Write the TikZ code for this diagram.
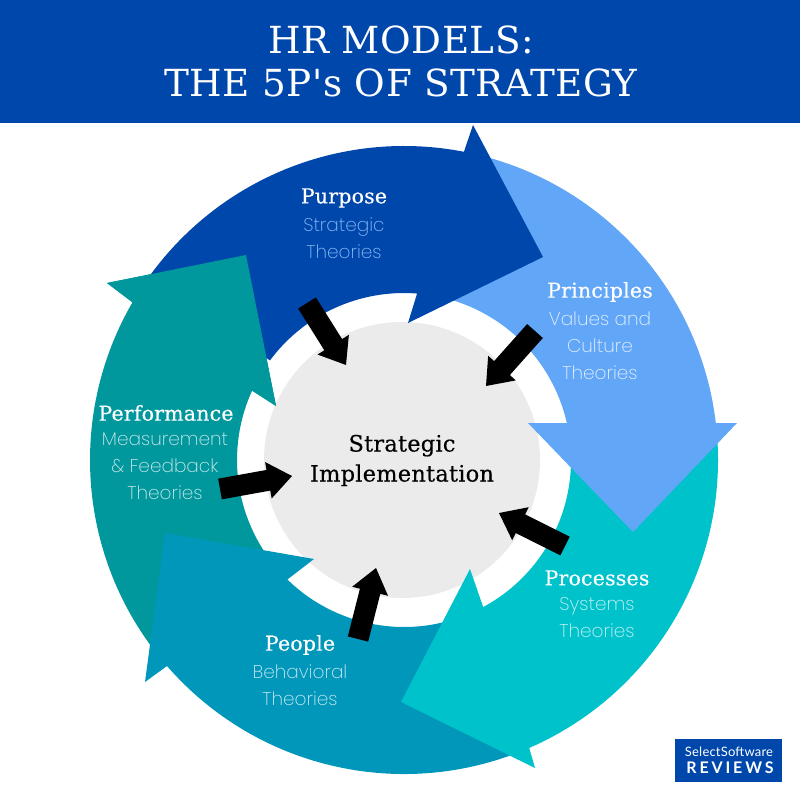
\documentclass[tikz,border=0pt]{standalone}
\usepackage{fontspec}
\usetikzlibrary{calc}
\setmainfont{Liberation Serif}
\newfontfamily\headfont[LetterSpace=1.5]{DejaVu Serif}
\newfontfamily\boldhead[FakeBold=0.35,LetterSpace=1]{DejaVu Serif}
\newfontfamily\thinfont{Poppins ExtraLight}
\newfontfamily\badgefont[LetterSpace=1.5]{Lato}
\definecolor{navyc}{HTML}{0047AB}
\definecolor{skyc}{HTML}{62A6F7}
\definecolor{cyanc}{HTML}{00C2CB}
\definecolor{oceanc}{HTML}{0097BB}
\definecolor{tealc}{HTML}{00979D}
\definecolor{greyc}{HTML}{EBEBEB}
\tikzset{
  titletext/.style={text=white,font=\headfont\fontsize{37.3}{43}\selectfont,align=center},
  namelabel/.style={text=white,font=\boldhead\fontsize{20.5}{24}\selectfont},
  sublabel/.style={font=\thinfont\fontsize{18.5}{27}\selectfont,align=center},
  centertext/.style={text=black,font=\boldhead\fontsize{22.5}{30}\selectfont,align=center},
}
\newcommand{\blockarrow}[2]{%
  \fill[black] ($(#1)!10.5pt!90:(#2)$)
    -- ($($(#2)!24pt!(#1)$)!10.5pt!90:(#2)$)
    -- ($($(#2)!24pt!(#1)$)!18.5pt!90:(#2)$)
    -- (#2)
    -- ($($(#2)!24pt!(#1)$)!18.5pt!-90:(#2)$)
    -- ($($(#2)!24pt!(#1)$)!10.5pt!-90:(#2)$)
    -- ($(#1)!10.5pt!-90:(#2)$) -- cycle;}
\begin{document}
\begin{tikzpicture}[x=1pt,y=-1pt]
\useasboundingbox (0,0) rectangle (800,800);
\coordinate (C) at (404,460);
% header
\fill[navyc] (0,0) rectangle (800,123);
\node[titletext] (title) at (401,61.5) {HR MODELS:\\THE 5P's OF STRATEGY};
% centre disc, below the arrowheads
\fill[greyc] (402,460) circle[radius=138pt];
% performance
\fill[tealc] ($(C)+(149.85:314pt)$) arc[start angle=149.85,end angle=218,radius=314pt]
  -- ($(C)+(214:167pt)$) arc[start angle=214,end angle=155.4,radius=167pt]
  -- (276,406) -- (246,255) -- (107,283) -- cycle;
% people
\fill[oceanc] ($(C)+(-68:314pt)$) arc[start angle=-68,end angle=-139,radius=314pt]
  -- (145,682) -- (165,533) -- (314,559)
  -- ($(C)+(-134.3:167pt)$) arc[start angle=-134.3,end angle=-73,radius=167pt] -- cycle;
% processes
\fill[cyanc] ($(C)+(6:314pt)$) arc[start angle=6,end angle=-66.5,radius=314pt]
  -- (535,768) -- (401,702) -- (470,569)
  -- ($(C)+(-61.7:167pt)$) arc[start angle=-61.7,end angle=5,radius=167pt] -- cycle;
% principles
\fill[skyc] ($(C)+(76:314pt)$) arc[start angle=76,end angle=6.76,radius=314pt]
  -- (737,423) -- (633,532) -- (528,423)
  -- ($(C)+(12.8:167pt)$) arc[start angle=12.8,end angle=75,radius=167pt] -- cycle;
% purpose
\fill[navyc] ($(C)+(143.9:314pt)$) arc[start angle=143.9,end angle=79,radius=314pt]
  -- (473,125) -- (543,257) -- (408,323)
  -- ($(C)+(85.5:167pt)$) arc[start angle=85.5,end angle=143.4,radius=167pt] -- cycle;
% performance head again, above purpose
\fill[tealc] (107,283) -- (246,255) -- (276,406) -- (251,390) -- (132,302) -- cycle;
\node[centertext] (centre) at (402,460.5) {Strategic\\Implementation};
% labels
\node[namelabel] (n1) at (344,198) {Purpose};
\node[sublabel,text=skyc!75!white] (s1) at (344,238) {Strategic\\Theories};
\node[namelabel] (n2) at (600,292) {Principles};
\node[sublabel,text=white!85!skyc] (s2) at (600,346) {Values and\\Culture\\Theories};
\node[namelabel] (n3) at (597,578) {Processes};
\node[sublabel,text=white!80!cyanc] (s3) at (597,618) {Systems\\Theories};
\node[namelabel] (n4) at (300,645) {People};
\node[sublabel,text=white!80!oceanc] (s4) at (300,685) {Behavioral\\Theories};
\node[namelabel] (n5) at (166,413) {Performance};
\node[sublabel,text=white!80!tealc] (s5) at (165,466) {Measurement\\\& Feedback\\Theories};
% black arrows
\coordinate (a1) at (307,303); \coordinate (b1) at (346,365);
\coordinate (a2) at (535,331); \coordinate (b2) at (486,386);
\coordinate (a3) at (565,546); \coordinate (b3) at (499,513);
\coordinate (a4) at (358,639); \coordinate (b4) at (376,568);
\coordinate (a5) at (220,489); \coordinate (b5) at (292,476);
\blockarrow{a1}{b1}
\blockarrow{a2}{b2}
\blockarrow{a3}{b3}
\blockarrow{a4}{b4}
\blockarrow{a5}{b5}
% badge
\fill[navyc] (675,739) rectangle (782,782);
\node[text=white,font=\badgefont\fontsize{13}{15}\selectfont] (b1t) at (729,752) {SelectSoftware};
\node[text=white,font=\badgefont\bfseries\fontsize{16}{18}\selectfont] (b2t) at (730,768) {\addfontfeature{LetterSpace=18}REVIEWS};
\end{tikzpicture}
\end{document}
